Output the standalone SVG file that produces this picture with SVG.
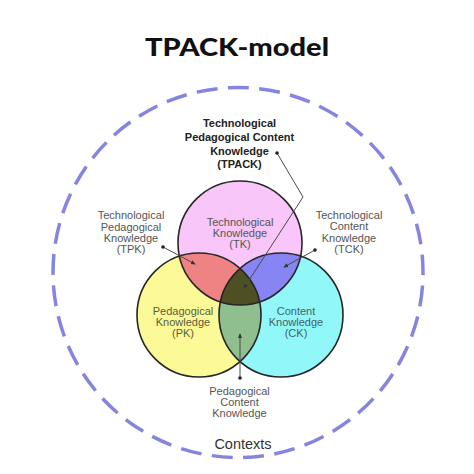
<svg xmlns="http://www.w3.org/2000/svg" width="474" height="474" viewBox="0 0 474 474">
<style>
.t{font-family:"Liberation Sans",Arial,sans-serif;font-size:11px;text-anchor:middle;fill:#555}
.b{font-weight:bold;fill:#222}
.ring{fill:none;stroke:#262626;stroke-width:1.6}
.ln{fill:none;stroke:#4a4a4a;stroke-width:1}
.dot{fill:#222}
</style>
<defs>
<clipPath id="cTK"><circle cx="240" cy="243" r="62"/></clipPath>
<clipPath id="cPK"><circle cx="199" cy="315" r="62"/></clipPath>
<clipPath id="cCK"><circle cx="281" cy="315" r="62"/></clipPath>
<marker id="ah" viewBox="0 0 6 6" refX="5" refY="3" markerWidth="5" markerHeight="5" orient="auto" markerUnits="userSpaceOnUse"><path d="M0,0.5 L6,3 L0,5.5 z" fill="#333"/></marker>
</defs>
<rect width="474" height="474" fill="#fff"/>
<text x="237" y="56" font-family="Lato,'Open Sans',sans-serif" font-weight="900" font-size="25" text-anchor="middle" fill="#111" textLength="184" lengthAdjust="spacingAndGlyphs">TPACK-model</text>
<g id="contexts">
<circle cx="238" cy="272.5" r="185" fill="none" stroke="#8585e0" stroke-width="3.5" stroke-dasharray="21 10.416" stroke-dashoffset="18.36"/>
<text x="243" y="449" font-family="'Liberation Sans',Arial,sans-serif" font-size="14.5" text-anchor="middle" fill="#333">Contexts</text>
</g>
<g id="pk"><circle cx="199" cy="315" r="62" fill="#fbfa96"/></g>
<g id="ck"><circle cx="281" cy="315" r="62" fill="#92f7f8"/></g>
<g id="tk"><circle cx="240" cy="243" r="62" fill="#f8c6f8"/></g>
<g id="tpk-region"><circle cx="199" cy="315" r="62" fill="#ef8282" clip-path="url(#cTK)"/></g>
<g id="tck-region"><circle cx="281" cy="315" r="62" fill="#8784f4" clip-path="url(#cTK)"/></g>
<g id="pck-region"><circle cx="281" cy="315" r="62" fill="#8fbf8e" clip-path="url(#cPK)"/></g>
<g id="tpack-region"><g clip-path="url(#cTK)"><circle cx="281" cy="315" r="62" fill="#4e4f22" clip-path="url(#cPK)"/></g></g>
<g id="outlines">
<circle class="ring" cx="240" cy="243" r="62"/>
<circle class="ring" cx="199" cy="315" r="62"/>
<circle class="ring" cx="281" cy="315" r="62"/>
</g>
<g id="tk-label"><text class="t" x="240" y="225.5">Technological</text><text class="t" x="240" y="236.5">Knowledge</text><text class="t" x="240" y="247.5">(TK)</text></g>
<g id="pk-label"><text class="t" x="183" y="314.5" fill="#5c5c3c" style="fill:#5c5c3c">Pedagogical</text><text class="t" x="183" y="326" style="fill:#5c5c3c">Knowledge</text><text class="t" x="183" y="337" style="fill:#5c5c3c">(PK)</text></g>
<g id="ck-label"><text class="t" x="296" y="314.5" style="fill:#3f6468">Content</text><text class="t" x="296" y="326" style="fill:#3f6468">Knowledge</text><text class="t" x="296" y="337" style="fill:#3f6468">(CK)</text></g>
<g id="tpack-label"><text class="t b" x="239.5" y="127">Technological</text><text class="t b" x="239.5" y="141">Pedagogical Content</text><text class="t b" x="239.5" y="154.5">Knowledge</text><text class="t b" x="239.5" y="168">(TPACK)</text></g>
<g id="tpk-label"><text class="t" x="131" y="219">Technological</text><text class="t" x="131" y="230.5">Pedagogical</text><text class="t" x="131" y="241.5">Knowledge</text><text class="t" x="131" y="253">(TPK)</text></g>
<g id="tck-label"><text class="t" x="349" y="219">Technological</text><text class="t" x="349" y="230">Content</text><text class="t" x="349" y="241.5">Knowledge</text><text class="t" x="349" y="252.5">(TCK)</text></g>
<g id="pck-label"><text class="t" x="239.5" y="394.5">Pedagogical</text><text class="t" x="239.5" y="405.5">Content</text><text class="t" x="239.5" y="416.5">Knowledge</text></g>
<g id="connectors">
<polyline class="ln" points="277,153 303,197 244,288" marker-end="url(#ah)"/>
<line class="ln" x1="163" y1="247" x2="195" y2="264" marker-end="url(#ah)"/>
<line class="ln" x1="315" y1="250" x2="284" y2="267" marker-end="url(#ah)"/>
<line class="ln" x1="240" y1="378" x2="240" y2="334" marker-end="url(#ah)"/>
<circle class="dot" cx="277" cy="153" r="1.8"/>
<circle class="dot" cx="163" cy="247" r="1.8"/>
<circle class="dot" cx="315" cy="250" r="1.8"/>
<circle class="dot" cx="240" cy="378" r="1.8"/>
</g>
</svg>
